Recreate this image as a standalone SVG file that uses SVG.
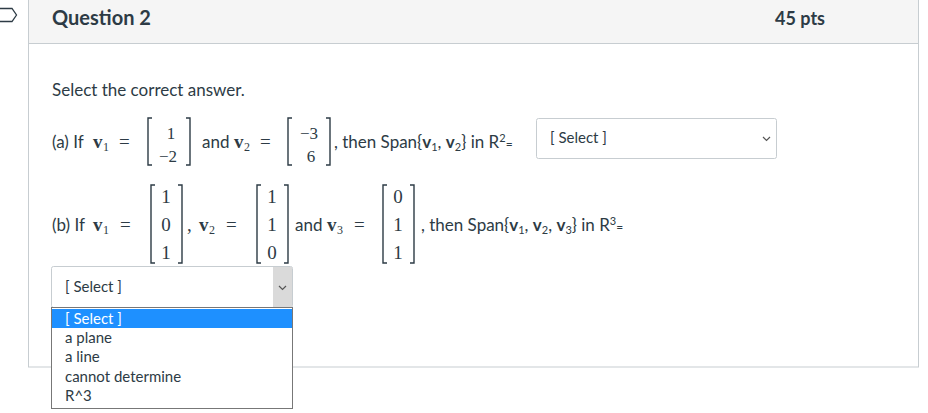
<svg xmlns="http://www.w3.org/2000/svg" width="928" height="413" viewBox="0 0 928 413">
<style>
.t{font-family:Lato,"Liberation Sans",sans-serif;fill:#2d3b45;font-size:17px}
.m{font-family:"Liberation Serif",serif;fill:#2d3b45;font-size:19px}
.mb{font-family:"Liberation Serif",serif;fill:#2d3b45;font-size:19px;font-weight:bold}
.br{fill:none;stroke:#2d3b45;stroke-width:1.4}
.o{font-family:Lato,"Liberation Sans",sans-serif;fill:#2d3b45;font-size:15px}
</style>
<rect width="928" height="413" fill="#fff"/>
<g id="panel">
<rect x="28.5" y="-1" width="890" height="368" fill="#fff" stroke="#c7cdd1"/>
<rect x="29" y="0" width="889" height="43" fill="#f5f5f5"/>
<line x1="28" y1="43.5" x2="918" y2="43.5" stroke="#c7cdd1"/>
<path d="M0 8.5 H12 L16.5 15 L12 21.5 H0" fill="none" stroke="#2d3b45" stroke-width="1.3"/>
<text x="52" y="25" class="t" style="font-size:20px;font-weight:bold">Question 2</text>
<text x="825" y="25" class="t" text-anchor="end" style="font-size:18px;font-weight:bold">45 pts</text>
<text x="52" y="96" class="t">Select the correct answer.</text>
</g>
<g id="partA">
<text x="52" y="148" class="t">(a)  If</text>
<text x="93" y="148" class="mb">v</text><text x="103" y="151" class="m" style="font-size:12px">1</text>
<text x="119" y="148" class="m">=</text>
<path class="br" d="M152 118 H148 V165 H152 M186 118 H190 V165 H186"/>
<text x="171" y="139" class="m" text-anchor="middle" style="font-size:17px">1</text>
<text x="168" y="162" class="m" text-anchor="middle" style="font-size:17px">−2</text>
<text x="202" y="148" class="t">and</text>
<text x="234" y="148" class="mb">v</text><text x="244" y="151" class="m" style="font-size:12px">2</text>
<text x="260" y="148" class="m">=</text>
<path class="br" d="M292 118 H288 V165 H292 M326 118 H330 V165 H326"/>
<text x="309" y="139" class="m" text-anchor="middle" style="font-size:17px">−3</text>
<text x="311" y="162" class="m" text-anchor="middle" style="font-size:17px">6</text>
<text x="334" y="148" class="t">, then Span{<tspan font-weight="bold">v</tspan><tspan font-size="11" dy="3">1</tspan><tspan dy="-3">, </tspan><tspan font-weight="bold">v</tspan><tspan font-size="11" dy="3">2</tspan><tspan dy="-3">} in R</tspan><tspan font-size="11" dy="-6">2</tspan><tspan dy="6" font-size="12">=</tspan></text>
<rect x="536.5" y="118.5" width="240" height="40" rx="2" fill="#fff" stroke="#c7cdd1"/>
<text x="550" y="143" class="o">[ Select ]</text>
<path d="M763 137 l3.5 3.5 l3.5 -3.5" fill="none" stroke="#555" stroke-width="1.2"/>
</g>
<g id="partB">
<text x="52" y="231" class="t">(b)  If</text>
<text x="93" y="231" class="mb">v</text><text x="103" y="234" class="m" style="font-size:12px">1</text>
<text x="120" y="231" class="m">=</text>
<path class="br" d="M155 185 H151 V263 H155 M178 185 H182 V263 H178"/>
<text x="166" y="203" class="m" text-anchor="middle">1</text>
<text x="166" y="231" class="m" text-anchor="middle">0</text>
<text x="166" y="259" class="m" text-anchor="middle">1</text>
<text x="187" y="231" class="m">,</text>
<text x="199" y="231" class="mb">v</text><text x="209" y="234" class="m" style="font-size:12px">2</text>
<text x="226" y="231" class="m">=</text>
<path class="br" d="M261 185 H257 V263 H261 M284 185 H288 V263 H284"/>
<text x="272" y="203" class="m" text-anchor="middle">1</text>
<text x="272" y="231" class="m" text-anchor="middle">1</text>
<text x="272" y="259" class="m" text-anchor="middle">0</text>
<text x="295" y="231" class="t">and</text>
<text x="327" y="231" class="mb">v</text><text x="337" y="234" class="m" style="font-size:12px">3</text>
<text x="354" y="231" class="m">=</text>
<path class="br" d="M387 185 H383 V263 H387 M410 185 H414 V263 H410"/>
<text x="398" y="203" class="m" text-anchor="middle">0</text>
<text x="398" y="231" class="m" text-anchor="middle">1</text>
<text x="398" y="259" class="m" text-anchor="middle">1</text>
<text x="421" y="231" class="t">, then Span{<tspan font-weight="bold">v</tspan><tspan font-size="11" dy="3">1</tspan><tspan dy="-3">, </tspan><tspan font-weight="bold">v</tspan><tspan font-size="11" dy="3">2</tspan><tspan dy="-3">, </tspan><tspan font-weight="bold">v</tspan><tspan font-size="11" dy="3">3</tspan><tspan dy="-3">} in R</tspan><tspan font-size="11" dy="-6">3</tspan><tspan dy="6" font-size="12">=</tspan></text>
</g>
<g id="selectB">
<rect x="51.5" y="266.5" width="241" height="41" rx="2" fill="#fff" stroke="#c7cdd1"/>
<rect x="273" y="267" width="19" height="40" fill="#dadada"/>
<text x="65" y="292" class="o">[ Select ]</text>
<path d="M279 286 l3.5 3.5 l3.5 -3.5" fill="none" stroke="#555" stroke-width="1.2"/>
</g>
<g id="dropdown">
<rect x="51.5" y="307.5" width="241" height="101" fill="#fff" stroke="#777"/>
<rect x="52" y="309" width="240" height="19" fill="#1e90ff"/>
<text x="65" y="324" class="o" style="fill:#fff">[ Select ]</text>
<text x="65" y="343" class="o">a plane</text>
<text x="65" y="362" class="o">a line</text>
<text x="65" y="382" class="o">cannot determine</text>
<text x="65" y="401" class="o">R^3</text>
</g>
</svg>
